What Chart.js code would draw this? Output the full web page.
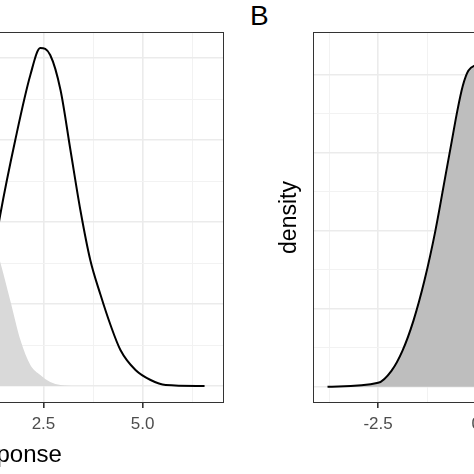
<!DOCTYPE html>
<html><head><meta charset="utf-8">
<script src="https://cdn.jsdelivr.net/npm/chart.js@4"></script>
<style>
html,body{margin:0;padding:0;width:474px;height:474px;overflow:hidden;background:#fff;position:relative}
canvas{position:absolute;top:0}
#B{position:absolute;left:250px;top:0px;font:28px "Liberation Sans",Arial,sans-serif;color:#000}
</style></head><body>
<div style="position:absolute;left:-199px;top:0;width:474px;height:474px"><canvas id="c1"></canvas></div>
<div style="position:absolute;left:272px;top:0;width:320px;height:474px"><canvas id="c2"></canvas></div>
<div id="B">B</div>
<script>
// Panel A: response
const aLineX=[1.28,1.41,1.79,2.17,2.42,2.67,2.93,3.18,3.43,3.68,3.94,4.19,4.44,4.82,5.20,5.58,6.56];
const aLineY=[140,171,246,311,338,331,296,236,176,126,91,61,36,16,6,1,0];
const aFillX=[1.28,1.41,1.66,1.92,2.17,2.42,2.67,2.93,3.30,6.56];
const aFillY=[140,124,86,46,21,11,4,1,0,0];
const aTicks=[-2.5,-1.25,0,1.25,2.5,3.75,5,6.25];
const aMajor=[-2.5,0,2.5,5];
// Panel B: density
const bX=[-3.79,-2.5,-2.16,-1.88,-1.60,-1.32,-1.04,-0.76,-0.62,-0.48,-0.34,-0.20,0,0.20,0.40,0.60,0.80,1.0,1.3,1.6,1.9,2.2,2.6];
const bY=[0,4,16,36,66,106,156,216,246,276,301,316,322,324,318,302,278,246,190,130,80,40,10];
const bTicks=[-3.75,-2.5,-1.25,0,1.25,2.5];
const bMajor=[-2.5,0,2.5];
const pts=(xs,ys)=>xs.map((x,i)=>({x,y:ys[i]}));
const FONT='"Liberation Sans",Arial,sans-serif';
const border={id:'border',afterDraw(c){const a=c.chartArea,g=c.ctx;g.save();g.strokeStyle='#333';g.lineWidth=1;g.strokeRect(a.left+0.5,a.top+0.5,a.right-a.left-1,a.bottom-a.top-1);g.restore();}};
function mk(id,w,yw,xmin,xmax,ticks,major,ystep,title,ytitle,datasets){
  const cv=document.getElementById(id);cv.width=w;cv.height=474;cv.style.width=w+'px';cv.style.height='474px';
  const yt=[];for(let v=0;v<=8;v++)yt.push(v*ystep);
  return new Chart(cv,{type:'scatter',data:{datasets},plugins:[border],options:{
    responsive:false,animation:false,devicePixelRatio:1,
    layout:{padding:{top:32,right:0,left:0,bottom:0}},
    plugins:{legend:{display:false},tooltip:{enabled:false}},
    scales:{
      x:{type:'linear',min:xmin,max:xmax,afterBuildTicks:s=>{s.ticks=ticks.map(v=>({value:v}));},
        afterFit:s=>{s.height=71;},
        ticks:{autoSkip:false,maxRotation:0,color:'#4d4d4d',font:{family:FONT,size:17},padding:6,
          callback:v=>major.includes(v)?(v===0?'0':v.toFixed(1)):''},
        grid:{color:c=>c.tick&&major.includes(c.tick.value)?'#ebebeb':'#f2f2f2',lineWidth:c=>c.tick&&major.includes(c.tick.value)?1.6:1,
          tickColor:c=>c.tick&&major.includes(c.tick.value)?'#333':'rgba(0,0,0,0)',tickLength:5,drawOnChartArea:true},
        border:{display:false},
        title:{display:true,text:title,color:'#000',font:{family:FONT,size:24},padding:{top:0}}},
      y:{type:'linear',min:-17*ystep/41,max:-17*ystep/41+371*ystep/(ystep===41?41:39),
        afterBuildTicks:s=>{s.ticks=yt.map(v=>({value:v}));},
        afterFit:s=>{s.width=yw;},
        ticks:{display:false},
        grid:{color:c=>c.index%2===0?'#ebebeb':'#f2f2f2',lineWidth:c=>c.index%2===0?1.6:1,drawTicks:false},
        border:{display:false},
        title:{display:!!ytitle,text:ytitle||'',color:'#000',font:{family:FONT,size:23},padding:{bottom:4}}}
    }}});
}
mk('c1',423,0,-3.61,7.05,aTicks,aMajor,41,'response','',[
  {data:pts(aFillX,aFillY),showLine:true,cubicInterpolationMode:'monotone',pointRadius:0,borderWidth:0,backgroundColor:'#d9d9d9',fill:'origin'},
  {data:pts(aLineX,aLineY),showLine:true,cubicInterpolationMode:'monotone',pointRadius:0,borderWidth:2,borderColor:'#000',fill:false}
]);
mk('c2',320,41,-4.16,2.61,bTicks,bMajor,39,'','density',[
  {data:pts(bX,bY),showLine:true,cubicInterpolationMode:'monotone',pointRadius:0,borderWidth:2,borderColor:'#000',backgroundColor:'#bebebe',fill:'origin'}
]);
</script></body></html>
